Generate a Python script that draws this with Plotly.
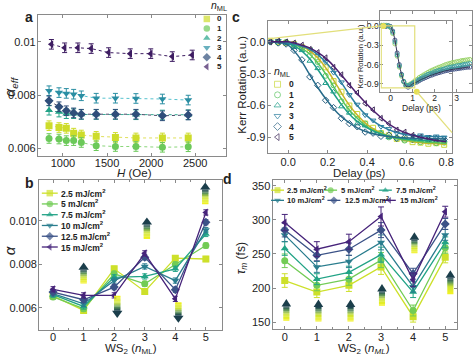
import plotly.graph_objects as go

W, H = 474, 357
FONT = 'Liberation Sans, Arial, sans-serif'
FRAME = '#8a8a8a'
TXT = '#222222'

# ---------------- Panel a data ----------------
n_ml_labels = ['0', '1', '2', '3', '4', '5']
a_field = [842, 955, 1038, 1121, 1208, 1377, 1595, 1828, 2128, 2421]
a_field_5 = [869, 1019, 1169, 1320, 1518, 1763, 1996, 2240, 2466]
a_alpha_0 = [0.00685, 0.00678, 0.00675, 0.00657, 0.00650, 0.00645, 0.00641, 0.00639, 0.00639, 0.00639]
a_alpha_1 = [0.00637, 0.00635, 0.00629, 0.00629, 0.00622, 0.00610, 0.00607, 0.00607, 0.00604, 0.00606]
a_alpha_2 = [0.00743, 0.00736, 0.00730, 0.00730, 0.00727, 0.00727, 0.00727, 0.00726, 0.00725, 0.00726]
a_alpha_3 = [0.00816, 0.00809, 0.00806, 0.00803, 0.00797, 0.00788, 0.00788, 0.00787, 0.00785, 0.00781]
a_alpha_4 = [0.00778, 0.00756, 0.00741, 0.00733, 0.00728, 0.00728, 0.00728, 0.00728, 0.00722, 0.00725]
a_alpha_5 = [0.00990, 0.00977, 0.00977, 0.00974, 0.00959, 0.00955, 0.00955, 0.00944, 0.00950]
a_err = 0.00018
a_xticks = [1000, 1500, 2000, 2500]
a_yticks = [0.006, 0.008, 0.010]
a_yticktext = ['0.006', '0.008', '0.01']

# ---------------- Panel b data ----------------
ws2_layers = [0, 1, 2, 3, 4, 5]
fluence_labels = ['2.5 mJ/cm<sup>2</sup>', '5 mJ/cm<sup>2</sup>', '7.5 mJ/cm<sup>2</sup>',
                  '10 mJ/cm<sup>2</sup>', '12.5 mJ/cm<sup>2</sup>', '15 mJ/cm<sup>2</sup>']
b_alpha_25 = [0.00655, 0.00588, 0.00779, 0.00675, 0.00828, 0.00824]
b_alpha_5 = [0.00650, 0.00596, 0.00756, 0.00710, 0.00799, 0.00886]
b_alpha_75 = [0.00660, 0.00606, 0.00740, 0.00744, 0.00779, 0.00939]
b_alpha_10 = [0.00665, 0.00618, 0.00725, 0.00790, 0.00725, 0.00957]
b_alpha_125 = [0.00672, 0.00637, 0.00695, 0.00832, 0.00683, 0.00993]
b_alpha_15 = [0.00685, 0.00657, 0.00657, 0.00850, 0.00641, 0.01038]
b_err = 0.00012
b_yticks = [0.006, 0.008, 0.010]
b_yticktext = ['0.006', '0.008', '0.010']
b_arrow_x = [1.0, 2.1, 3.07, 4.1, 4.98]
b_arrow_tail = [0.00712, 0.00655, 0.00916, 0.00626, 0.01076]
b_arrow_head = [0.00808, 0.00553, 0.01015, 0.00531, 0.01176]

# ---------------- Panel c data ----------------
c_fit_delay = [-0.1, -0.05, 0.0, 0.05, 0.1, 0.15, 0.2, 0.25, 0.3, 0.35, 0.4, 0.45, 0.5,
               0.55, 0.6, 0.65, 0.7, 0.75, 0.8]
c_fit_0 = [0, 0, -0.01, -0.03, -0.07, -0.15, -0.27, -0.42, -0.57, -0.69, -0.78, -0.84, -0.88,
           -0.91, -0.93, -0.945, -0.955, -0.96, -0.965]
c_fit_1 = [0, 0, -0.01, -0.04, -0.10, -0.20, -0.33, -0.48, -0.62, -0.72, -0.80, -0.85, -0.885,
           -0.91, -0.925, -0.935, -0.945, -0.95, -0.955]
c_fit_2 = [0, 0, -0.015, -0.06, -0.14, -0.26, -0.40, -0.54, -0.66, -0.75, -0.81, -0.855, -0.885,
           -0.905, -0.915, -0.925, -0.93, -0.933, -0.935]
c_fit_3 = [0, 0, -0.01, -0.03, -0.06, -0.12, -0.21, -0.33, -0.47, -0.60, -0.70, -0.77, -0.82,
           -0.855, -0.875, -0.885, -0.89, -0.893, -0.895]
c_fit_4 = [0, -0.005, -0.03, -0.13, -0.28, -0.43, -0.56, -0.67, -0.75, -0.81, -0.85, -0.875, -0.89,
           -0.90, -0.905, -0.91, -0.912, -0.914, -0.915]
c_fit_5 = [0, 0, 0, -0.02, -0.05, -0.10, -0.17, -0.27, -0.38, -0.49, -0.59, -0.68, -0.76,
           -0.82, -0.86, -0.89, -0.91, -0.93, -0.94]
c_mk_delay = [-0.09, -0.05, -0.01, 0.03, 0.07, 0.11, 0.15, 0.19, 0.23, 0.27, 0.31, 0.35, 0.39,
              0.43, 0.47, 0.51, 0.55, 0.59, 0.63, 0.67, 0.71, 0.75, 0.79]
c_mk_0 = [0.01, 0, -0.01, -0.02, -0.05, -0.08, -0.16, -0.24, -0.37, -0.47, -0.60, -0.68, -0.77,
          -0.81, -0.86, -0.88, -0.915, -0.92, -0.945, -0.95, -0.96, -0.955, -0.97]
c_mk_1 = [0, -0.01, 0, -0.04, -0.06, -0.13, -0.19, -0.32, -0.41, -0.56, -0.63, -0.73, -0.77,
          -0.84, -0.86, -0.90, -0.905, -0.93, -0.925, -0.945, -0.94, -0.955, -0.95]
c_mk_2 = [0.01, 0, -0.01, -0.05, -0.08, -0.18, -0.25, -0.39, -0.47, -0.61, -0.67, -0.77, -0.79,
          -0.85, -0.86, -0.90, -0.90, -0.92, -0.915, -0.935, -0.925, -0.94, -0.93]
c_mk_3 = [0, 0.01, -0.01, -0.02, -0.05, -0.07, -0.13, -0.19, -0.29, -0.38, -0.50, -0.59, -0.69,
          -0.74, -0.80, -0.82, -0.86, -0.87, -0.885, -0.88, -0.895, -0.89, -0.90]
c_mk_4 = [0, -0.01, -0.02, -0.08, -0.17, -0.33, -0.41, -0.55, -0.62, -0.72, -0.77, -0.80, -0.85,
          -0.86, -0.89, -0.88, -0.91, -0.90, -0.92, -0.905, -0.92, -0.91, -0.92]
c_mk_5 = [0, 0.01, 0, -0.01, -0.03, -0.07, -0.10, -0.15, -0.24, -0.31, -0.41, -0.48, -0.58,
          -0.64, -0.72, -0.77, -0.83, -0.85, -0.88, -0.90, -0.91, -0.935, -0.94]
c_xticks = [0.0, 0.2, 0.4, 0.6, 0.8]
c_xticktext = ['0.0', '0.2', '0.4', '0.6', '0.8']
c_yticks = [0.0, -0.3, -0.6, -0.9]
c_yticktext = ['0.0', '-0.3', '-0.6', '-0.9']

# inset (long delay)
inset_delay = [-0.4, -0.3, -0.2, -0.1, 0.0, 0.1, 0.2, 0.3, 0.4, 0.5, 0.6, 0.7, 0.8, 0.9,
               1.0, 1.1, 1.2, 1.3, 1.4, 1.5, 1.6, 1.7, 1.8, 1.9, 2.0, 2.1, 2.2, 2.3, 2.4,
               2.5, 2.6, 2.7, 2.8, 2.9, 3.0, 3.1, 3.2, 3.3, 3.4, 3.5, 3.6]
inset_mid = [0.0, 0.01, 0.0, 0.0, -0.02, -0.10, -0.25, -0.45, -0.62, -0.76, -0.86, -0.92, -0.93, -0.91,
             -0.89, -0.87, -0.85, -0.83, -0.81, -0.79, -0.77, -0.75, -0.74, -0.73, -0.71, -0.70,
             -0.69, -0.68, -0.67, -0.66, -0.65, -0.64, -0.635, -0.63, -0.62, -0.615, -0.61,
             -0.60, -0.595, -0.59, -0.585]
inset_upper = [0.01, 0.0, 0.01, 0.0, -0.03, -0.12, -0.28, -0.47, -0.64, -0.78, -0.87, -0.91, -0.92, -0.90,
               -0.88, -0.85, -0.83, -0.80, -0.78, -0.76, -0.74, -0.72, -0.70, -0.685, -0.67,
               -0.655, -0.64, -0.63, -0.615, -0.60, -0.59, -0.58, -0.57, -0.565, -0.555, -0.55,
               -0.54, -0.535, -0.53, -0.525, -0.52]
inset_lower = [0.0, 0.0, -0.01, 0.0, -0.01, -0.08, -0.22, -0.42, -0.60, -0.75, -0.86, -0.93, -0.95, -0.93,
               -0.90, -0.88, -0.87, -0.85, -0.83, -0.815, -0.80, -0.785, -0.77, -0.76, -0.745,
               -0.735, -0.725, -0.715, -0.705, -0.695, -0.69, -0.68, -0.675, -0.67, -0.665,
               -0.66, -0.655, -0.65, -0.645, -0.64, -0.64]
inset_xticks = [0, 1, 2, 3]
inset_yticks = [0.0, -0.3, -0.6, -0.9]

# ---------------- Panel d data ----------------
d_tau_25 = [211, 194, 204, 231, 158, 245]
d_tau_5 = [240, 204, 213, 241, 167, 259]
d_tau_75 = [258, 213, 223, 249, 194, 267]
d_tau_10 = [278, 231, 239, 267, 202, 278]
d_tau_125 = [285, 248, 257, 285, 221, 294]
d_tau_15 = [296, 257, 268, 305, 212, 312]
d_err = [10, 8, 9, 11, 8, 8]
d_err_15 = [12, 11, 11, 14, 10, 8]
d_yticks = [150, 200, 250, 300, 350]
d_arrow_x = [0.05, 1.05, 2.05, 3.03, 4.04, 5.16]
d_arrow_tail = [152, 151, 151, 174, 251, 191]
d_arrow_head = [184, 183, 183, 206, 282, 226]

# ---------------- styles ----------------
nml_colors = ['#cddc2a', '#6cc95a', '#22a287', '#2a8ea3', '#2f4e7a', '#3e1d62']
nml_line_colors = ['#e0e05a', '#8ad67a', '#3aaa95', '#58c3cf', '#4a4a6a', '#3e1d62']
c_fit_colors = ['#c8b428', '#57c45a', '#1f9e89', '#2c7fa0', '#276b8a', '#4b1f6f']
c_mk_colors = ['#c9d93a', '#5cc463', '#1f9e89', '#2c7fa0', '#2a5f80', '#3e2a5a']
symbols = ['square', 'circle', 'triangle-up', 'triangle-down', 'diamond', 'triangle-left']
fl_colors = ['#cde02a', '#72cc55', '#22a386', '#2a7d8e', '#3b5287', '#46237a']


def dom_x(p0, p1):
    return [p0 / W, p1 / W]


def dom_y(p_top, p_bot):
    return [1 - p_bot / H, 1 - p_top / H]


fig = go.Figure()

# ---------- panel a traces ----------
a_series = [a_alpha_0, a_alpha_1, a_alpha_2, a_alpha_3, a_alpha_4, a_alpha_5]
for i, vals in enumerate(a_series):
    xs = a_field_5 if i == 5 else a_field
    fig.add_trace(go.Scatter(
        x=xs, y=vals, mode='lines+markers', xaxis='x', yaxis='y', showlegend=False,
        line=dict(color=nml_line_colors[i], width=1, dash='dot'),
        marker=dict(symbol=symbols[i], size=7, color=nml_colors[i]),
        error_y=dict(type='constant', value=a_err, color=nml_colors[i], thickness=1, width=2.5)))

# ---------- panel b traces ----------
b_series = [b_alpha_25, b_alpha_5, b_alpha_75, b_alpha_10, b_alpha_125, b_alpha_15]
for i, vals in enumerate(b_series):
    fig.add_trace(go.Scatter(
        x=ws2_layers, y=vals, mode='lines+markers', xaxis='x2', yaxis='y2', showlegend=False,
        line=dict(color=fl_colors[i], width=1.3),
        marker=dict(symbol=symbols[i], size=7, color=fl_colors[i]),
        error_y=dict(type='constant', value=b_err, color=fl_colors[i], thickness=1, width=2.5)))

# ---------- panel c traces ----------
c_fits = [c_fit_0, c_fit_1, c_fit_2, c_fit_3, c_fit_4, c_fit_5]
c_mks = [c_mk_0, c_mk_1, c_mk_2, c_mk_3, c_mk_4, c_mk_5]
for i in range(6):
    fig.add_trace(go.Scatter(
        x=c_mk_delay, y=c_mks[i], mode='markers', xaxis='x3', yaxis='y3', showlegend=False,
        marker=dict(symbol=symbols[i] + '-open', size=5, color=c_mk_colors[i], line=dict(width=1))))
for i in range(6):
    fig.add_trace(go.Scatter(
        x=c_fit_delay, y=c_fits[i], mode='lines', xaxis='x3', yaxis='y3', showlegend=False,
        line=dict(color=c_fit_colors[i], width=1.5, shape='spline')))

# ---------- inset traces ----------
for vals, col in [(inset_upper, '#9ad36a'), (inset_lower, '#4a5a8a'), (inset_mid, '#3fa3a0')]:
    fig.add_trace(go.Scatter(
        x=inset_delay, y=vals, mode='markers', xaxis='x5', yaxis='y5', showlegend=False,
        marker=dict(symbol='circle-open', size=4, color=col, line=dict(width=1))))
fig.add_trace(go.Scatter(
    x=inset_delay, y=inset_lower, mode='lines', xaxis='x5', yaxis='y5', showlegend=False,
    line=dict(color='#333355', width=1, shape='spline')))

# ---------- panel d traces ----------
d_series = [d_tau_25, d_tau_5, d_tau_75, d_tau_10, d_tau_125, d_tau_15]
for i, vals in enumerate(d_series):
    err = d_err_15 if i == 5 else d_err
    fig.add_trace(go.Scatter(
        x=ws2_layers, y=vals, mode='lines+markers', xaxis='x4', yaxis='y4', showlegend=False,
        line=dict(color=fl_colors[i], width=1.3),
        marker=dict(symbol=symbols[i], size=7, color=fl_colors[i]),
        error_y=dict(type='data', array=err, color=fl_colors[i], thickness=1, width=3)))

# ---------- overlay (pixel coordinates) for legends & labels ----------
annotations = []
shapes = []


def text(x, y, s, size=11, anchor='center', vanchor='middle', angle=0, color=TXT):
    annotations.append(dict(x=x, y=y, xref='x6', yref='y6', text=s, showarrow=False,
                            xanchor=anchor, yanchor=vanchor, textangle=angle,
                            font=dict(size=size, color=color, family=FONT)))


def legend_symbol(x, y, sym, col, size, half=0, open_=False):
    xs = [x - half, x, x + half] if half else [x]
    ys = [y] * len(xs)
    sizes = [0, size, 0] if half else [size]
    fig.add_trace(go.Scatter(
        x=xs, y=ys, xaxis='x6', yaxis='y6', showlegend=False,
        mode='lines+markers' if half else 'markers',
        line=dict(color=col, width=1.3),
        marker=dict(symbol=sym + ('-open' if open_ else ''), size=sizes, color=col,
                    line=dict(width=1 if open_ else 0, color=col))))


# panel a legend
for i, lab in enumerate(n_ml_labels):
    yy = 18 + 9.6 * i
    legend_symbol(207.7, yy, symbols[i], nml_colors[i], 6.5)
    text(215.5, yy, '<b>' + lab + '</b>', size=8, anchor='left')
text(220, 5.5, '<i>n</i><sub>ML</sub>', size=10.5)

# panel c legend
text(283, 71.5, '<i>n</i><sub>ML</sub>', size=10.5)
for i, lab in enumerate(n_ml_labels):
    yy = 83.5 + 10.6 * i
    legend_symbol(278.7, yy, symbols[i], c_mk_colors[i], 6, open_=True)
    text(288, yy, '<b>' + lab + '</b>', size=8.5, anchor='left')

# panel b legend
for i, lab in enumerate(fluence_labels):
    yy = 192.7 + 10.8 * i
    legend_symbol(50, yy, symbols[i], fl_colors[i], 6.5, half=8)
    text(59.5, yy, '<b>' + lab + '</b>', size=8.5, anchor='left')

# panel d legend (two rows of three)
d_leg_sym_x = [278.7, 332, 387, 278.7, 335.3, 391]
d_leg_txt_x = [286, 340.3, 395.3, 286, 344.3, 399.3]
for i, lab in enumerate(fluence_labels):
    yy = 189.7 if i < 3 else 199.9
    legend_symbol(d_leg_sym_x[i], yy, symbols[i], fl_colors[i], 6, half=6.5)
    text(d_leg_txt_x[i], yy, '<b>' + lab + '</b>', size=7.6, anchor='left')

# panel letters
text(29, 16, '<b>a</b>', size=14)
text(30, 183, '<b>b</b>', size=14)
text(237, 16, '<b>c</b>', size=14)
text(228, 178, '<b>d</b>', size=14)

# axis titles
text(11, 86, '<i>α</i><sub><i>eff</i></sub>', size=14, angle=-90)
text(135.5, 172, '<i>H</i> (Oe)', size=11.5)
text(9, 250, '<i>α</i>', size=15, angle=-90)
text(132, 348.5, 'WS<sub>2</sub> (<i>n</i><sub>ML</sub>)', size=11.5)
text(243, 84, 'Kerr Rotation (a.u.)', size=11.5, angle=-90)
text(361, 172.5, 'Delay (ps)', size=11.5)
text(243, 258, '<i>τ</i><sub><i>m</i></sub> (fs)', size=12, angle=-90)
text(366, 348.5, 'WS<sub>2</sub> (<i>n</i><sub><i>ML</i></sub>)', size=11.5)
text(362, 55, 'Kerr Rotation (a.u.)', size=7.5, angle=-90)
text(423, 107.5, 'Delay (ps)', size=8.5)

# inset white background (drawn in the inset's own layer)
shapes.append(dict(type='rect', xref='x5 domain', yref='y5 domain', x0=0, x1=1, y0=0, y1=1,
                   fillcolor='white', line=dict(width=0), layer='below'))
# zoom box inside the inset and connector lines
ZOOM_COL = '#e2df7a'
shapes.append(dict(type='rect', xref='x5', yref='y5', x0=-0.42, x1=1.1, y0=0.0, y1=-0.96,
                   line=dict(color=ZOOM_COL, width=1.2), fillcolor='rgba(0,0,0,0)', layer='above'))
shapes.append(dict(type='line', xref='x6', yref='y6', x0=269, y0=38, x1=383, y1=25,
                   line=dict(color=ZOOM_COL, width=1.2)))
shapes.append(dict(type='line', xref='x6', yref='y6', x0=454, y0=132, x1=418.5, y1=91,
                   line=dict(color=ZOOM_COL, width=1.2)))
fig.add_trace(go.Scatter(x=[385, 418.5], y=[25, 91], xaxis='x6', yaxis='y6', mode='markers',
                         showlegend=False, marker=dict(size=6, color='#e6e050')))


# gradient arrows
def lerp(c0, c1, t):
    return tuple(int(round(a + (b - a) * t)) for a, b in zip(c0, c1))


STOPS = [(0.0, (242, 242, 35)), (0.45, (205, 228, 50)), (0.75, (95, 150, 90)), (1.0, (30, 70, 80))]


def grad_col(t):
    for (t0, c0), (t1, c1) in zip(STOPS[:-1], STOPS[1:]):
        if t <= t1:
            r, g, b = lerp(c0, c1, (t - t0) / (t1 - t0))
            return f'rgb({r},{g},{b})'
    r, g, b = STOPS[-1][1]
    return f'rgb({r},{g},{b})'


def grad_arrow(xc, yt, yh, xref, yref, bw, hw, hl, n=16):
    sgn = 1 if yh > yt else -1
    yn = yh - sgn * hl
    for k in range(n):
        y0 = yt + (yn - yt) * k / n
        y1 = yt + (yn - yt) * (k + 1.15) / n
        if k == n - 1:
            y1 = yn
        shapes.append(dict(type='rect', xref=xref, yref=yref, x0=xc - bw / 2, x1=xc + bw / 2,
                           y0=y0, y1=y1, fillcolor=grad_col(k / (n - 1)), line=dict(width=0),
                           layer='above'))
    shapes.append(dict(type='path', xref=xref, yref=yref,
                       path=f'M {xc - hw / 2},{yn} L {xc + hw / 2},{yn} L {xc},{yh} Z',
                       fillcolor='rgb(27,62,75)', line=dict(width=0), layer='above'))


for xc, yt, yh in zip(b_arrow_x, b_arrow_tail, b_arrow_head):
    grad_arrow(xc, yt, yh, 'x2', 'y2', 0.21, 0.34, 0.00033)
for xc, yt, yh in zip(d_arrow_x, d_arrow_tail, d_arrow_head):
    grad_arrow(xc, yt, yh, 'x4', 'y4', 0.19, 0.30, 11)


def axis(domain, rng, tickvals, ticktext=None, size=11, minor=None, anchor=None, standoff=0):
    d = dict(domain=domain, range=rng, tickvals=tickvals, showline=True, linecolor=FRAME,
             linewidth=1, mirror='ticks', ticks='inside', ticklen=3, tickcolor=FRAME,
             showgrid=False, zeroline=False, anchor=anchor, ticklabelstandoff=standoff,
             tickfont=dict(size=size, color=TXT, family=FONT))
    if ticktext is not None:
        d['ticktext'] = ticktext
    if minor is not None:
        d['minor'] = dict(tickvals=minor, ticks='inside', ticklen=2, tickcolor=FRAME)
    return d


half_steps = [-0.5, 0.5, 1.5, 2.5, 3.5, 4.5, 5.5]

fig.update_layout(
    width=W, height=H, margin=dict(l=0, r=0, t=0, b=0),
    paper_bgcolor='white', plot_bgcolor='rgba(0,0,0,0)', showlegend=False,
    font=dict(family=FONT, color=TXT),
    xaxis=axis(dom_x(38, 227), [715, 2850], a_xticks, anchor='y', standoff=-3),
    yaxis=axis(dom_y(14, 155), [0.00573, 0.0110], a_yticks, a_yticktext, anchor='x', standoff=-1),
    xaxis2=axis(dom_x(39.3, 223), [-0.456, 5.53], ws2_layers, minor=half_steps, anchor='y2', standoff=-3),
    yaxis2=axis(dom_y(179.7, 329.7), [0.00499, 0.01186], b_yticks, b_yticktext, anchor='x2', standoff=-1),
    xaxis3=axis(dom_x(268.7, 454), [-0.104, 0.83], c_xticks, c_xticktext, anchor='y3', standoff=-1),
    yaxis3=axis(dom_y(20, 152.7), [-1.05, 0.197], c_yticks, c_yticktext, anchor='x3', standoff=-1),
    xaxis4=axis(dom_x(273.7, 458.7), [-0.38, 5.36], ws2_layers, minor=half_steps, anchor='y4', standoff=-2),
    yaxis4=axis(dom_y(180, 328.7), [140.2, 357.8], d_yticks, anchor='x4', standoff=-1),
    xaxis5=axis(dom_x(382, 474), [-0.46, 3.7], inset_xticks, size=8.5, anchor='y5', standoff=-2),
    yaxis5=axis(dom_y(10, 91), [-1.02, 0.23], inset_yticks, c_yticktext, size=8.5, anchor='x5', standoff=-1),
    xaxis6=dict(domain=[0, 1], range=[0, W], visible=False, anchor='y6', fixedrange=True),
    yaxis6=dict(domain=[0, 1], range=[H, 0], visible=False, anchor='x6', fixedrange=True),
    annotations=annotations, shapes=shapes,
)

fig.write_html('out.html', config={'displayModeBar': False},
               post_script="document.body.style.margin='0';document.body.style.padding='0';")
